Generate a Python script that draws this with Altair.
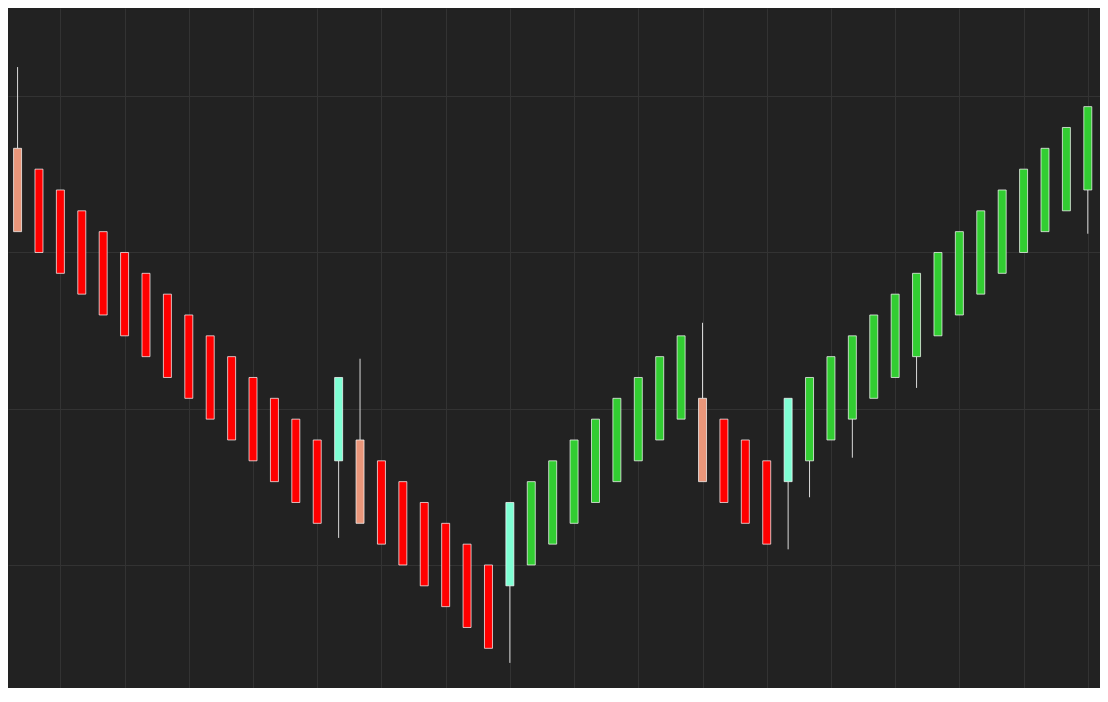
import altair as alt
import pandas as pd

# Brick values
idx = list(range(51))
opens = [40, 38, 36, 34, 32, 30, 28, 26, 24, 22, 20, 18, 16, 14, 12,
         10, 12, 10, 8, 6, 4, 2, 0, -2, 0, 2, 4, 6, 8, 10, 12, 14,
         16, 14, 12, 10, 8, 10, 12, 14, 16, 18, 20, 22, 24, 26, 28, 30, 32, 34, 36]
closes = [32, 30, 28, 26, 24, 22, 20, 18, 16, 14, 12, 10, 8, 6, 4,
          18, 4, 2, 0, -2, -4, -6, -8, 6, 8, 10, 12, 14, 16, 18, 20, 22,
          8, 6, 4, 2, 16, 18, 20, 22, 24, 26, 28, 30, 32, 34, 36, 38, 40, 42, 44]
kinds = (["rev_down"] + ["down"] * 14 + ["rev_up", "rev_down"] + ["down"] * 6
         + ["rev_up"] + ["up"] * 8 + ["rev_down"] + ["down"] * 3 + ["rev_up"] + ["up"] * 14)

# Wicks
wick_idx = [0, 15, 16, 23, 32, 36, 37, 39, 42, 50]
wick_from = [40, 10, 12, -2, 16, 8, 10, 14, 20, 36]
wick_to = [47.8, 2.6, 19.8, -9.4, 23.25, 1.5, 6.5, 10.3, 17.0, 31.8]

x_grid = [2, 5, 8, 11, 14, 17, 20, 23, 26, 29, 32, 35, 38, 41, 44, 47, 50]
y_grid = [0, 15, 30, 45]

bricks = pd.DataFrame({"i": idx, "open": opens, "close": closes, "kind": kinds})
wicks = pd.DataFrame({"i": wick_idx, "a": wick_from, "b": wick_to})

xs = alt.Scale(domain=[-0.447, 50.57], nice=False, zero=False, padding=0)
ys = alt.Scale(domain=[-11.81, 53.47], nice=False, zero=False, padding=0)

x_axis = alt.Axis(values=x_grid, labels=False, ticks=False, domain=False, title=None,
                  grid=True, gridColor="#333333", gridWidth=1)
y_axis = alt.Axis(values=y_grid, labels=False, ticks=False, domain=False, title=None,
                  grid=True, gridColor="#333333", gridWidth=1)

color_scale = alt.Scale(domain=["down", "rev_down", "up", "rev_up"],
                        range=["#ff0000", "#e9967a", "#32cd32", "#7fffd4"])

wick_layer = alt.Chart(wicks).mark_rule(color="#d9d9d9", strokeWidth=1).encode(
    x=alt.X("i:Q", scale=xs, axis=x_axis),
    y=alt.Y("a:Q", scale=ys, axis=y_axis),
    y2="b:Q",
)

brick_layer = alt.Chart(bricks).mark_bar(
    size=8, stroke="#ffffff", strokeOpacity=0.7, strokeWidth=1
).encode(
    x=alt.X("i:Q", scale=xs, axis=x_axis),
    y=alt.Y("open:Q", scale=ys, axis=y_axis),
    y2="close:Q",
    color=alt.Color("kind:N", scale=color_scale, legend=None),
)

chart = alt.layer(wick_layer, brick_layer).properties(
    width=1092, height=680,
    autosize=alt.AutoSizeParams(type="fit", contains="padding"),
    padding=0,
    background="#222222",
).configure_view(stroke=None, fill="#222222")

chart.save("out.html", embed_options={"renderer": "svg", "actions": False})
